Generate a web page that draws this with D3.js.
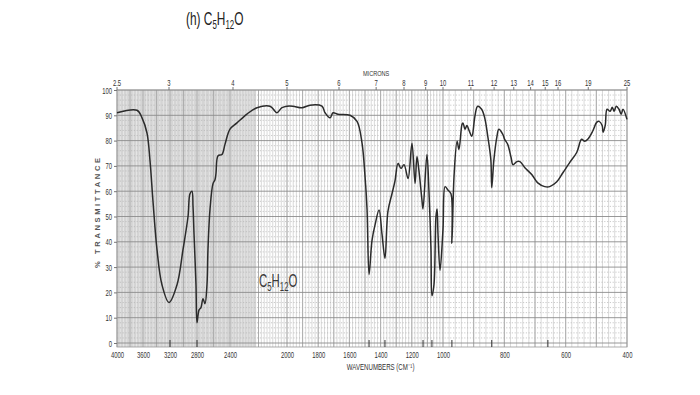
<!DOCTYPE html>
<html>
<head>
<meta charset="utf-8">
<script src="https://cdn.jsdelivr.net/npm/d3@7"></script>
<style>
  body { margin: 0; background: #fff; }
  text { font-family: "Liberation Sans", Arial, sans-serif; }
</style>
</head>
<body>
<svg id="chart" width="700" height="395"></svg>
<script>
// spectrum values (cm-1, % transmittance)
var wavenumbers = [4000, 3692, 3615, 3541, 3496, 3452, 3393, 3319, 3215, 3096, 3007, 2933, 2904, 2874, 2859, 2844, 2815, 2800,
    2776, 2752, 2727, 2703, 2679, 2667, 2642, 2606, 2582, 2570, 2545, 2497, 2461, 2400, 2351, 2281, 2211, 2119, 2084, 2070,
    2035, 2000, 1962, 1904, 1853, 1776, 1756, 1724, 1705, 1673, 1596, 1551, 1519, 1500, 1487, 1474, 1455, 1436, 1410, 1391,
    1372, 1353, 1327, 1308, 1288, 1269, 1250, 1224, 1199, 1179, 1167, 1154, 1135, 1128, 1103, 1090, 1077, 1071, 1058, 1045,
    1038, 1032, 1019, 1000, 993, 984, 974, 971, 964, 954, 948, 938, 935, 928, 922, 915, 906, 896, 887, 874, 864, 854, 844,
    841, 834, 824, 818, 805, 799, 789, 778, 772, 759, 749, 733, 710, 691, 668, 652, 629, 609, 587, 564, 548, 538, 528, 512,
    499, 491, 481, 478, 471, 465, 455, 448, 442, 435, 426, 419, 413, 400];
var transmittance = [91, 92, 89, 83, 72, 56, 37, 23, 16, 23, 37, 50, 59, 60, 54, 43, 23, 8,
    13, 14, 17.5, 15.5, 23, 37, 53, 63, 64.5, 67, 74, 74.5, 78.5, 84.5, 87, 90.5, 93, 93.6, 91.6, 91,
    93, 93.6, 93.6, 93, 94, 93.6, 91, 89, 91, 90.4, 90, 87.6, 79, 66, 53, 27, 40.6, 46.6, 52.6, 43,
    33.5, 52, 59, 64, 71, 69, 70.5, 65, 79, 63, 73.7, 68, 56.6, 53, 74.5, 60, 37, 18.7, 23, 50,
    53, 43, 28.7, 45, 61.8, 60.5, 59, 39.4, 66, 79.7, 76.5, 86.5, 87, 84.5, 86, 84, 81.7, 89.6, 93.6, 92.4, 89, 81.7, 72.5,
    61.4, 72.5, 81.7, 84.5, 82.5, 80.5, 78.5, 73.3, 70.5, 71.7, 71.7, 69.3, 66.5, 63.3, 61.8, 61.8, 63.7, 67.3, 71.3, 75.3, 80.5, 79.7, 80.5, 83.7,
    87.2, 87.6, 86, 83.3, 86, 92.4, 91.6, 93.2, 91.6, 93.6, 92.4, 90.4, 92.4, 88.4];

var xTickValues = [4000, 3600, 3200, 2800, 2400, 2000, 1800, 1600, 1400, 1200, 1000, 800, 600, 400];
var yTickValues = [0, 10, 20, 30, 40, 50, 60, 70, 80, 90, 100];
var micronTicks = [2.5, 3, 4, 5, 6, 7, 8, 9, 10, 11, 12, 13, 14, 15, 16, 19, 25];
var peakMarks = [3200, 2800, 1474, 1372, 1128, 1071, 971, 841, 658];
var shadedFrom = 4000, shadedTo = 2220;

var svg = d3.select("#chart");
var sx = 0.62;   // the printed chart is squeezed sideways

// the wavenumber axis changes scale along the way
var x = d3.scaleLinear()
    .domain([4000, 3600, 3200, 2800, 2400, 2000, 1000, 400])
    .range([117, 143, 170, 197, 230, 287, 443, 627]);
var y = d3.scaleLinear().domain([0, 100]).range([343, 90]);
var yBottom = 347;

// micron labels on top do not follow the wavenumber ticks below 5 microns
var micronLeft = d3.scaleLinear().domain([2.5, 3, 4, 5]).range([x(4000), 169, 233, x(2000)]);
function mx(m) { return m <= 5 ? micronLeft(m) : x(10000 / m); }

var grid = svg.append("g").attr("class", "grid");

grid.append("rect")
    .attr("x", x(shadedFrom)).attr("y", y(100))
    .attr("width", x(shadedTo) - x(shadedFrom)).attr("height", yBottom - y(100))
    .attr("fill", "#d4d4d4");

// vertical minor lines
var minorV = d3.range(4000, 2400, -50)
    .concat(d3.range(2400, 2000, -20))
    .concat(d3.range(2000, 1000, -20))
    .concat(d3.range(1000, 400, -20));
grid.selectAll("line.vmin")
    .data(minorV)
    .enter().append("line")
    .attr("class", "vmin")
    .attr("x1", d => x(d)).attr("x2", d => x(d))
    .attr("y1", y(100)).attr("y2", yBottom)
    .attr("stroke", d => d > shadedTo ? "#ededed" : "#c8c8c8")
    .attr("stroke-width", 0.7);

var majorV = d3.range(4000, 2000, -200).concat(d3.range(2000, 399, -100));
grid.selectAll("line.vmaj")
    .data(majorV)
    .enter().append("line")
    .attr("class", "vmaj")
    .attr("x1", d => x(d)).attr("x2", d => x(d))
    .attr("y1", y(100)).attr("y2", yBottom)
    .attr("stroke", "#a0a0a0")
    .attr("stroke-width", 0.8);

// horizontal lines
grid.selectAll("line.hmin")
    .data(d3.range(0, 100, 2).filter(d => d % 10 != 0))
    .enter().append("line")
    .attr("class", "hmin")
    .attr("x1", x(4000)).attr("x2", x(400))
    .attr("y1", d => y(d)).attr("y2", d => y(d))
    .attr("stroke", "#b5b5b5")
    .attr("stroke-width", 0.7)
    .attr("stroke-dasharray", "1.2,1.6");

grid.selectAll("line.hmaj")
    .data(yTickValues)
    .enter().append("line")
    .attr("class", "hmaj")
    .attr("x1", x(4000)).attr("x2", x(400))
    .attr("y1", d => y(d)).attr("y2", d => y(d))
    .attr("stroke", "#8c8c8c")
    .attr("stroke-width", 0.9);

svg.append("rect")
    .attr("x", x(4000)).attr("y", y(100))
    .attr("width", x(400) - x(4000)).attr("height", yBottom - y(100))
    .attr("fill", "none").attr("stroke", "#9a9a9a").attr("stroke-width", 0.8);

// peak markers along the bottom
svg.selectAll("line.peak")
    .data(peakMarks)
    .enter().append("line")
    .attr("class", "peak")
    .attr("x1", d => x(d)).attr("x2", d => x(d))
    .attr("y1", yBottom - 7).attr("y2", yBottom)
    .attr("stroke", "#333").attr("stroke-width", 1);

// the spectrum
var points = wavenumbers.map(function(w, i) { return [w, transmittance[i]]; });
svg.append("path")
    .datum(points)
    .attr("fill", "none")
    .attr("stroke", "#2b2b2b")
    .attr("stroke-width", 1.5)
    .attr("stroke-linejoin", "round")
    .attr("d", d3.line()
        .x(function(d) { return x(d[0]) })
        .y(function(d) { return y(d[1]) })
        .curve(d3.curveCatmullRom.alpha(0.5))
    );

// axes
var xAxis = svg.append("g")
    .attr("transform", "translate(0," + yBottom + ")")
    .call(d3.axisBottom(x).tickValues(xTickValues).tickSize(0).tickPadding(4).tickFormat(d3.format("d")));
var yAxis = svg.append("g")
    .attr("transform", "translate(" + x(4000) + ",0)")
    .call(d3.axisLeft(y).tickValues(yTickValues).tickSize(3).tickPadding(2));

[xAxis, yAxis].forEach(function(a) {
    a.select(".domain").remove();
    a.selectAll(".tick line").attr("stroke", "#777");
    a.selectAll("text")
        .attr("font-size", 9.5)
        .attr("fill", "#333")
        .attr("font-family", "Liberation Sans, Arial, sans-serif");
});
xAxis.selectAll("text").attr("transform", "scale(" + sx + ",1)");
yAxis.selectAll("text").attr("x", -5 / sx).attr("transform", "scale(" + sx + ",1)");

// micron scale on top
var micronAxis = svg.append("g");
micronAxis.selectAll("line")
    .data(micronTicks)
    .enter().append("line")
    .attr("x1", d => mx(d)).attr("x2", d => mx(d))
    .attr("y1", y(100) - 3).attr("y2", y(100))
    .attr("stroke", "#777");
micronAxis.selectAll("text")
    .data(micronTicks)
    .enter().append("text")
    .attr("transform", d => "translate(" + mx(d) + "," + (y(100) - 4) + ") scale(" + sx + ",1)")
    .attr("text-anchor", "middle")
    .attr("font-size", 9.5)
    .attr("fill", "#333")
    .text(d => d);

svg.append("text")
    .attr("transform", "translate(" + mx(7) + ",76) scale(0.7,1)")
    .attr("text-anchor", "middle")
    .attr("font-size", 8)
    .attr("fill", "#333")
    .text("MICRONS");

svg.append("text")
    .attr("transform", "translate(" + x(1400) + ",370) scale(0.72,1)")
    .attr("text-anchor", "middle")
    .attr("font-size", 8.5)
    .attr("fill", "#333")
    .text("WAVENUMBERS (CM\u207B\u00B9)");

svg.append("text")
    .attr("transform", "translate(100,213) rotate(-90)")
    .attr("text-anchor", "middle")
    .attr("font-size", 7.5)
    .attr("font-weight", "bold")
    .attr("fill", "#555")
    .attr("textLength", 110)
    .attr("lengthAdjust", "spacing")
    .text("% TRANSMITTANCE");

// title
var title = svg.append("text")
    .attr("transform", "translate(186,25) scale(0.66,1)")
    .attr("font-family", "Liberation Serif, Times New Roman, serif")
    .attr("font-size", 18)
    .attr("fill", "#222");
title.append("tspan").text("(h) C");
title.append("tspan").attr("font-size", 12).attr("dy", 4).text("5");
title.append("tspan").attr("dy", -4).text("H");
title.append("tspan").attr("font-size", 12).attr("dy", 4).text("12");
title.append("tspan").attr("dy", -4).text("O");

// formula written inside the plot
var label = svg.append("text")
    .attr("transform", "translate(259,287) scale(0.6,1)")
    .attr("font-size", 19)
    .attr("fill", "#3a3a3a");
label.append("tspan").text("C");
label.append("tspan").attr("font-size", 13).attr("dy", 4).text("5");
label.append("tspan").attr("dy", -4).text("H");
label.append("tspan").attr("font-size", 13).attr("dy", 4).text("12");
label.append("tspan").attr("dy", -4).text("O");
</script>
</body>
</html>
